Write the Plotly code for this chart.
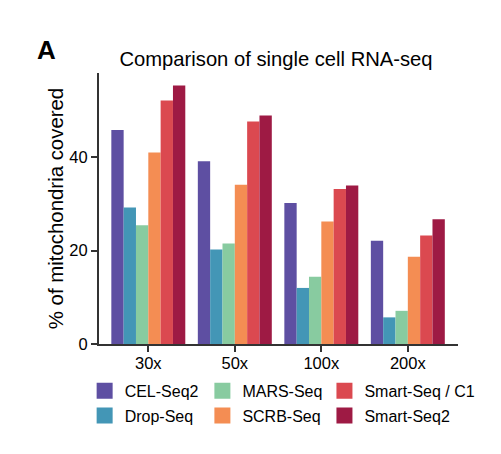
import plotly.graph_objects as go

# coverage levels and % of mitochondria covered per protocol
coverage = ["30x", "50x", "100x", "200x"]
cel_seq2 = [45.8, 39.1, 30.2, 22.1]
drop_seq = [29.2, 20.2, 12.0, 5.7]
mars_seq = [25.4, 21.5, 14.4, 7.1]
scrb_seq = [41.0, 34.1, 26.2, 18.7]
smart_c1 = [52.1, 47.6, 33.2, 23.2]
smart_seq2 = [55.3, 48.9, 33.9, 26.7]

methods = ["CEL-Seq2", "Drop-Seq", "MARS-Seq", "SCRB-Seq", "Smart-Seq / C1", "Smart-Seq2"]
values = [cel_seq2, drop_seq, mars_seq, scrb_seq, smart_c1, smart_seq2]
colors = ["#5E4FA2", "#4396B6", "#88CBA0", "#F48D53", "#DB4950", "#9E1A44"]
# legend is 3 columns of 2 entries each
legend_col = ["legend", "legend", "legend2", "legend2", "legend3", "legend3"]

fig = go.Figure()
for name, vals, col in zip(methods, values, colors):
    fig.add_trace(go.Bar(x=coverage, y=vals, name=name, marker_color=col,
                         marker_line_width=0, showlegend=False))
for name, col, lg in zip(methods, colors, legend_col):
    fig.add_trace(go.Scatter(x=[None], y=[None], mode="markers", name=name, legend=lg,
                             legendgroup=name,
                             marker=dict(symbol="square", size=16, color=col)))

axis_col = "#333333"
leg = dict(orientation="v", y=-0.11, yanchor="top", xanchor="left", tracegroupgap=1,
           font=dict(size=16), itemsizing="trace", bgcolor="rgba(0,0,0,0)")
# page body adds 8px offset, margins compensate
fig.update_layout(
    width=501, height=454,
    margin=dict(l=91, r=51, t=65, b=118),
    plot_bgcolor="white", paper_bgcolor="white",
    font=dict(family="Liberation Sans, Arial, sans-serif", size=16, color="black"),
    barmode="group", bargap=0.145, bargroupgap=0,
    title=dict(text="Comparison of single cell RNA-seq", x=0.535, xanchor="center",
               y=0.888, yanchor="middle", font=dict(size=20.2)),
    showlegend=True,
    legend=dict(leg, x=-0.04),
    legend2=dict(leg, x=0.288),
    legend3=dict(leg, x=0.628),
)
fig.update_xaxes(showline=True, linecolor=axis_col, linewidth=2, ticks="outside",
                 ticklen=6, tickwidth=2, tickcolor=axis_col, range=[-0.57, 3.58],
                 showgrid=False, tickfont=dict(size=16.5), automargin=False,
                 ticklabelstandoff=-3)
fig.update_yaxes(showline=True, linecolor=axis_col, linewidth=2, ticks="outside",
                 ticklen=6, tickwidth=2, tickcolor=axis_col, range=[0, 58],
                 tickvals=[0, 20, 40], showgrid=False, zeroline=False, automargin=False,
                 title=dict(text="% of mitochondria covered", font=dict(size=20.4), standoff=0),
                 tickfont=dict(size=16.5))

fig.add_annotation(text="<b>A</b>", xref="paper", yref="paper", x=-0.145, y=1.086,
                   showarrow=False, font=dict(size=26), xanchor="center", yanchor="middle")
# edge of neighbouring panel
fig.add_shape(type="line", xref="paper", yref="paper", x0=1.11, x1=1.11, y0=1.048, y1=1.125,
              line=dict(color="#E08020", width=2))

fig.write_html("out.html")
